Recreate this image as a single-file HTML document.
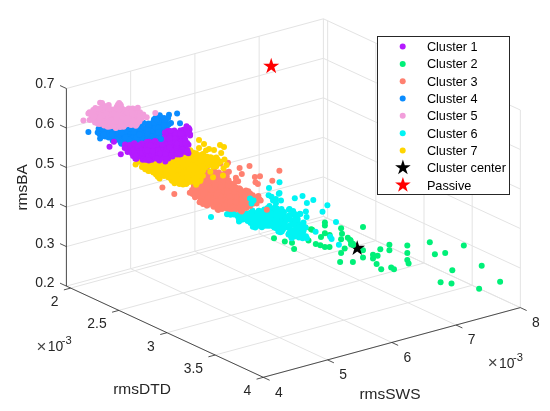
<!DOCTYPE html>
<html><head><meta charset="utf-8"><title>Cluster scatter</title>
<style>html,body{margin:0;padding:0;background:#fff}svg{display:block}</style></head>
<body><svg width="550" height="411" viewBox="0 0 550 411">
<rect width="550" height="411" fill="#fff"/>
<g stroke="#e3e3e3" stroke-width="1" fill="none">
<line x1="70.65" y1="288.07" x2="327.65" y2="218.37"/>
<line x1="118.82" y1="310.38" x2="375.82" y2="240.68"/>
<line x1="167.00" y1="332.69" x2="424.00" y2="262.99"/>
<line x1="215.17" y1="355.01" x2="472.17" y2="285.31"/>
<line x1="263.34" y1="377.32" x2="520.34" y2="307.62"/>
<line x1="66.40" y1="286.10" x2="263.30" y2="377.30"/>
<line x1="130.65" y1="268.68" x2="327.55" y2="359.88"/>
<line x1="194.90" y1="251.25" x2="391.80" y2="342.45"/>
<line x1="259.15" y1="233.83" x2="456.05" y2="325.03"/>
<line x1="323.40" y1="216.40" x2="520.30" y2="307.60"/>
<line x1="66.40" y1="286.10" x2="66.40" y2="88.50"/>
<line x1="130.65" y1="268.68" x2="130.65" y2="71.07"/>
<line x1="194.90" y1="251.25" x2="194.90" y2="53.65"/>
<line x1="259.15" y1="233.83" x2="259.15" y2="36.23"/>
<line x1="323.40" y1="216.40" x2="323.40" y2="18.80"/>
<line x1="66.40" y1="286.10" x2="323.40" y2="216.40"/>
<line x1="66.40" y1="246.58" x2="323.40" y2="176.88"/>
<line x1="66.40" y1="207.06" x2="323.40" y2="137.36"/>
<line x1="66.40" y1="167.54" x2="323.40" y2="97.84"/>
<line x1="66.40" y1="128.02" x2="323.40" y2="58.32"/>
<line x1="66.40" y1="88.50" x2="323.40" y2="18.80"/>
<line x1="327.65" y1="218.37" x2="327.65" y2="20.77"/>
<line x1="375.82" y1="240.68" x2="375.82" y2="43.08"/>
<line x1="424.00" y1="262.99" x2="424.00" y2="65.39"/>
<line x1="472.17" y1="285.31" x2="472.17" y2="87.71"/>
<line x1="520.34" y1="307.62" x2="520.34" y2="110.02"/>
<line x1="323.40" y1="216.40" x2="520.30" y2="307.60"/>
<line x1="323.40" y1="176.88" x2="520.30" y2="268.08"/>
<line x1="323.40" y1="137.36" x2="520.30" y2="228.56"/>
<line x1="323.40" y1="97.84" x2="520.30" y2="189.04"/>
<line x1="323.40" y1="58.32" x2="520.30" y2="149.52"/>
<line x1="323.40" y1="18.80" x2="520.30" y2="110.00"/>
</g>
<g stroke="#262626" stroke-width="0.8" fill="none">
<line x1="66.40" y1="88.50" x2="66.40" y2="286.10"/>
<line x1="66.40" y1="286.10" x2="263.30" y2="377.30"/>
<line x1="263.30" y1="377.30" x2="520.30" y2="307.60"/>
<line x1="66.40" y1="286.10" x2="60.05" y2="283.16"/>
<line x1="66.40" y1="246.58" x2="60.05" y2="243.64"/>
<line x1="66.40" y1="207.06" x2="60.05" y2="204.12"/>
<line x1="66.40" y1="167.54" x2="60.05" y2="164.60"/>
<line x1="66.40" y1="128.02" x2="60.05" y2="125.08"/>
<line x1="66.40" y1="88.50" x2="60.05" y2="85.56"/>
<line x1="70.65" y1="288.07" x2="63.90" y2="289.90"/>
<line x1="118.82" y1="310.38" x2="112.07" y2="312.21"/>
<line x1="167.00" y1="332.69" x2="160.24" y2="334.53"/>
<line x1="215.17" y1="355.01" x2="208.41" y2="356.84"/>
<line x1="263.34" y1="377.32" x2="256.58" y2="379.15"/>
<line x1="263.30" y1="377.30" x2="269.65" y2="380.24"/>
<line x1="327.55" y1="359.88" x2="333.90" y2="362.82"/>
<line x1="391.80" y1="342.45" x2="398.15" y2="345.39"/>
<line x1="456.05" y1="325.03" x2="462.40" y2="327.97"/>
<line x1="520.30" y1="307.60" x2="526.65" y2="310.54"/>
</g>
<g font-family="Liberation Sans, Arial, sans-serif" font-size="13.9" fill="#262626">
<text x="54.60" y="287.30" text-anchor="end">0.2</text>
<text x="54.60" y="247.52" text-anchor="end">0.3</text>
<text x="54.60" y="207.74" text-anchor="end">0.4</text>
<text x="54.60" y="167.96" text-anchor="end">0.5</text>
<text x="54.60" y="128.18" text-anchor="end">0.6</text>
<text x="54.60" y="88.40" text-anchor="end">0.7</text>
<text x="58.45" y="306.07" text-anchor="end">2</text>
<text x="106.62" y="328.38" text-anchor="end">2.5</text>
<text x="154.80" y="350.69" text-anchor="end">3</text>
<text x="202.97" y="373.01" text-anchor="end">3.5</text>
<text x="251.14" y="395.32" text-anchor="end">4</text>
<text x="278.90" y="396.60" text-anchor="middle">4</text>
<text x="343.15" y="379.18" text-anchor="middle">5</text>
<text x="407.40" y="361.75" text-anchor="middle">6</text>
<text x="471.65" y="344.33" text-anchor="middle">7</text>
<text x="535.90" y="326.90" text-anchor="middle">8</text>
<text x="36.6" y="351"><tspan font-size="17" fill="#444" dy="0.6">×</tspan><tspan dx="1.2" dy="-0.6">10</tspan><tspan dy="-6.6" dx="-1.4" font-size="11.2">-3</tspan></text>
<text x="487.8" y="367.5"><tspan font-size="17" fill="#444" dy="0.6">×</tspan><tspan dx="1.2" dy="-0.6">10</tspan><tspan dy="-6.6" dx="-1.4" font-size="11.2">-3</tspan></text>
</g>
<g font-family="Liberation Sans, Arial, sans-serif" font-size="15.5" fill="#262626">
<text x="142" y="394" text-anchor="middle">rmsDTD</text>
<text x="390" y="399" text-anchor="middle">rmsSWS</text>
<text transform="translate(26.8,187.3) rotate(-90)" text-anchor="middle">rmsBA</text>
</g>
<g fill="#00f078"><circle cx="274.0" cy="238.3" r="3.0"/><circle cx="284.8" cy="241.4" r="3.0"/><circle cx="292.0" cy="242.7" r="3.0"/><circle cx="294.1" cy="249.0" r="3.0"/><circle cx="305.5" cy="227.4" r="3.0"/><circle cx="312.1" cy="229.8" r="3.0"/><circle cx="324.9" cy="222.6" r="3.0"/><circle cx="324.9" cy="225.6" r="3.0"/><circle cx="324.9" cy="233.2" r="3.0"/><circle cx="321.0" cy="237.0" r="3.0"/><circle cx="329.6" cy="235.0" r="3.0"/><circle cx="315.8" cy="244.0" r="3.0"/><circle cx="320.3" cy="245.2" r="3.0"/><circle cx="324.9" cy="247.0" r="3.0"/><circle cx="329.5" cy="247.0" r="3.0"/><circle cx="308.5" cy="240.6" r="3.0"/><circle cx="341.1" cy="228.3" r="3.0"/><circle cx="342.0" cy="233.8" r="3.0"/><circle cx="341.1" cy="239.2" r="3.0"/><circle cx="347.8" cy="237.8" r="3.0"/><circle cx="350.2" cy="240.1" r="3.0"/><circle cx="352.9" cy="243.8" r="3.0"/><circle cx="363.0" cy="227.0" r="3.0"/><circle cx="344.7" cy="248.4" r="3.0"/><circle cx="341.1" cy="252.9" r="3.0"/><circle cx="340.1" cy="262.0" r="3.0"/><circle cx="352.9" cy="262.0" r="3.0"/><circle cx="363.0" cy="250.2" r="3.0"/><circle cx="363.0" cy="257.5" r="3.0"/><circle cx="373.0" cy="254.7" r="3.0"/><circle cx="377.6" cy="255.7" r="3.0"/><circle cx="373.0" cy="258.4" r="3.0"/><circle cx="380.3" cy="249.3" r="3.0"/><circle cx="389.4" cy="244.7" r="3.0"/><circle cx="389.4" cy="250.2" r="3.0"/><circle cx="376.6" cy="263.9" r="3.0"/><circle cx="381.2" cy="269.3" r="3.0"/><circle cx="391.2" cy="267.5" r="3.0"/><circle cx="394.0" cy="269.3" r="3.0"/><circle cx="407.3" cy="245.5" r="3.0"/><circle cx="407.3" cy="253.1" r="3.0"/><circle cx="407.3" cy="260.0" r="3.0"/><circle cx="408.6" cy="263.4" r="3.0"/><circle cx="429.8" cy="242.2" r="3.0"/><circle cx="434.9" cy="254.2" r="3.0"/><circle cx="445.2" cy="253.1" r="3.0"/><circle cx="463.8" cy="245.5" r="3.0"/><circle cx="452.3" cy="270.3" r="3.0"/><circle cx="440.6" cy="282.3" r="3.0"/><circle cx="451.5" cy="283.5" r="3.0"/><circle cx="481.7" cy="265.7" r="3.0"/><circle cx="479.1" cy="288.7" r="3.0"/><circle cx="500.1" cy="281.8" r="3.0"/><circle cx="311.1" cy="229.3" r="3.0"/></g>
<polygon points="357.20,240.20 359.04,245.87 365.00,245.87 360.18,249.37 362.02,255.03 357.20,251.53 352.38,255.03 354.22,249.37 349.40,245.87 355.36,245.87" fill="#000"/>
<g fill="#00f078"><circle cx="350.6" cy="240.6" r="3.0"/><circle cx="353.2" cy="244.9" r="3.0"/><circle cx="351.0" cy="244.3" r="3.0"/></g>
<polygon points="270.20,205.90 272.04,211.57 278.00,211.57 273.18,215.07 275.02,220.73 270.20,217.23 265.38,220.73 267.22,215.07 262.40,211.57 268.36,211.57" fill="#000"/>
<g fill="#00f4f4"><circle cx="267.5" cy="220.8" r="3.0"/><circle cx="254.4" cy="215.4" r="3.0"/><circle cx="257.4" cy="215.9" r="3.0"/><circle cx="280.1" cy="218.4" r="3.0"/><circle cx="261.9" cy="227.2" r="3.0"/><circle cx="259.4" cy="222.7" r="3.0"/><circle cx="278.4" cy="231.6" r="3.0"/><circle cx="282.9" cy="219.5" r="3.0"/><circle cx="264.2" cy="225.8" r="3.0"/><circle cx="272.9" cy="217.1" r="3.0"/><circle cx="278.9" cy="227.6" r="3.0"/><circle cx="260.2" cy="219.5" r="3.0"/><circle cx="274.3" cy="220.3" r="3.0"/><circle cx="272.7" cy="218.1" r="3.0"/><circle cx="254.5" cy="213.0" r="3.0"/><circle cx="255.6" cy="225.0" r="3.0"/><circle cx="278.7" cy="213.2" r="3.0"/><circle cx="251.8" cy="221.3" r="3.0"/><circle cx="273.7" cy="223.4" r="3.0"/><circle cx="259.1" cy="225.8" r="3.0"/><circle cx="264.6" cy="211.7" r="3.0"/><circle cx="279.9" cy="221.6" r="3.0"/><circle cx="258.6" cy="210.8" r="3.0"/><circle cx="250.5" cy="219.1" r="3.0"/><circle cx="246.8" cy="213.6" r="3.0"/><circle cx="260.4" cy="221.6" r="3.0"/><circle cx="264.0" cy="215.4" r="3.0"/><circle cx="269.5" cy="225.8" r="3.0"/><circle cx="238.8" cy="218.7" r="3.0"/><circle cx="272.6" cy="220.3" r="3.0"/><circle cx="242.9" cy="219.5" r="3.0"/><circle cx="274.9" cy="216.1" r="3.0"/><circle cx="268.6" cy="211.1" r="3.0"/><circle cx="282.0" cy="213.9" r="3.0"/><circle cx="278.6" cy="221.6" r="3.0"/><circle cx="271.6" cy="223.4" r="3.0"/><circle cx="279.8" cy="230.2" r="3.0"/><circle cx="250.4" cy="212.8" r="3.0"/><circle cx="250.6" cy="222.9" r="3.0"/><circle cx="269.2" cy="221.9" r="3.0"/><circle cx="277.3" cy="225.9" r="3.0"/><circle cx="246.3" cy="218.9" r="3.0"/><circle cx="266.2" cy="212.2" r="3.0"/><circle cx="275.7" cy="213.1" r="3.0"/><circle cx="281.5" cy="226.5" r="3.0"/><circle cx="258.7" cy="220.9" r="3.0"/><circle cx="285.0" cy="221.5" r="3.0"/><circle cx="269.5" cy="206.0" r="3.0"/><circle cx="254.1" cy="219.1" r="3.0"/><circle cx="270.0" cy="208.5" r="3.0"/><circle cx="263.2" cy="223.1" r="3.0"/><circle cx="252.8" cy="226.8" r="3.0"/><circle cx="280.3" cy="232.3" r="3.0"/><circle cx="269.1" cy="215.4" r="3.0"/><circle cx="284.6" cy="217.7" r="3.0"/><circle cx="284.1" cy="215.4" r="3.0"/><circle cx="265.8" cy="219.0" r="3.0"/><circle cx="274.3" cy="227.6" r="3.0"/><circle cx="272.7" cy="210.6" r="3.0"/><circle cx="260.3" cy="212.9" r="3.0"/><circle cx="267.0" cy="225.7" r="3.0"/><circle cx="275.4" cy="223.3" r="3.0"/><circle cx="282.6" cy="222.7" r="3.0"/><circle cx="278.6" cy="222.4" r="3.0"/><circle cx="247.9" cy="218.3" r="3.0"/><circle cx="240.4" cy="220.0" r="3.0"/><circle cx="263.1" cy="219.2" r="3.0"/><circle cx="275.0" cy="210.4" r="3.0"/><circle cx="268.8" cy="223.2" r="3.0"/><circle cx="243.8" cy="215.8" r="3.0"/><circle cx="275.9" cy="218.9" r="3.0"/><circle cx="250.1" cy="221.6" r="3.0"/><circle cx="268.7" cy="213.3" r="3.0"/><circle cx="276.3" cy="228.3" r="3.0"/><circle cx="265.1" cy="223.6" r="3.0"/><circle cx="282.2" cy="224.5" r="3.0"/><circle cx="281.4" cy="229.0" r="3.0"/><circle cx="274.7" cy="207.8" r="3.0"/><circle cx="247.5" cy="214.6" r="3.0"/><circle cx="267.6" cy="208.1" r="3.0"/><circle cx="280.3" cy="215.7" r="3.0"/><circle cx="255.3" cy="227.4" r="3.0"/><circle cx="262.3" cy="213.8" r="3.0"/><circle cx="247.7" cy="220.9" r="3.0"/><circle cx="267.5" cy="218.6" r="3.0"/><circle cx="260.1" cy="216.9" r="3.0"/><circle cx="274.4" cy="214.6" r="3.0"/><circle cx="275.8" cy="226.7" r="3.0"/><circle cx="273.1" cy="226.2" r="3.0"/><circle cx="257.0" cy="222.9" r="3.0"/><circle cx="266.1" cy="215.8" r="3.0"/><circle cx="270.6" cy="213.4" r="3.0"/><circle cx="266.0" cy="214.3" r="3.0"/><circle cx="252.4" cy="210.6" r="3.0"/><circle cx="281.8" cy="231.6" r="3.0"/><circle cx="256.3" cy="213.5" r="3.0"/><circle cx="278.1" cy="211.8" r="3.0"/><circle cx="284.0" cy="212.0" r="3.0"/><circle cx="284.7" cy="224.2" r="3.0"/><circle cx="256.2" cy="221.5" r="3.0"/><circle cx="276.9" cy="208.4" r="3.0"/><circle cx="238.9" cy="214.8" r="3.0"/><circle cx="253.6" cy="222.9" r="3.0"/><circle cx="252.3" cy="215.2" r="3.0"/><circle cx="256.5" cy="218.0" r="3.0"/><circle cx="263.5" cy="221.6" r="3.0"/><circle cx="277.0" cy="215.3" r="3.0"/><circle cx="264.3" cy="209.6" r="3.0"/><circle cx="270.5" cy="217.6" r="3.0"/><circle cx="280.8" cy="212.6" r="3.0"/><circle cx="249.2" cy="215.4" r="3.0"/><circle cx="261.1" cy="211.3" r="3.0"/></g>
<g fill="#00f4f4"><circle cx="289.2" cy="219.7" r="3.0"/><circle cx="303.4" cy="231.3" r="3.0"/><circle cx="303.9" cy="236.0" r="3.0"/><circle cx="301.3" cy="224.5" r="3.0"/><circle cx="290.7" cy="232.5" r="3.0"/><circle cx="296.1" cy="225.8" r="3.0"/><circle cx="293.9" cy="232.5" r="3.0"/><circle cx="289.5" cy="232.5" r="3.0"/><circle cx="296.7" cy="227.1" r="3.0"/><circle cx="288.5" cy="234.5" r="3.0"/><circle cx="293.1" cy="230.7" r="3.0"/><circle cx="295.2" cy="214.2" r="3.0"/><circle cx="302.7" cy="224.6" r="3.0"/><circle cx="293.8" cy="235.1" r="3.0"/><circle cx="290.7" cy="235.7" r="3.0"/><circle cx="295.3" cy="235.8" r="3.0"/><circle cx="289.4" cy="216.5" r="3.0"/><circle cx="294.5" cy="236.6" r="3.0"/><circle cx="296.9" cy="233.7" r="3.0"/><circle cx="297.6" cy="221.6" r="3.0"/><circle cx="301.3" cy="226.5" r="3.0"/><circle cx="286.6" cy="227.2" r="3.0"/><circle cx="292.8" cy="214.4" r="3.0"/><circle cx="295.2" cy="220.6" r="3.0"/><circle cx="298.2" cy="230.4" r="3.0"/><circle cx="306.0" cy="236.2" r="3.0"/><circle cx="289.5" cy="225.7" r="3.0"/><circle cx="302.6" cy="238.2" r="3.0"/><circle cx="295.3" cy="229.6" r="3.0"/><circle cx="293.0" cy="220.2" r="3.0"/><circle cx="295.5" cy="216.5" r="3.0"/><circle cx="292.1" cy="223.8" r="3.0"/></g>
<g fill="#00f4f4"><circle cx="211.0" cy="217.0" r="3.0"/><circle cx="239.0" cy="221.5" r="3.0"/><circle cx="269.0" cy="188.0" r="3.0"/><circle cx="279.5" cy="182.3" r="3.0"/><circle cx="278.8" cy="193.8" r="3.0"/><circle cx="271.5" cy="196.7" r="3.0"/><circle cx="273.0" cy="200.4" r="3.0"/><circle cx="275.9" cy="203.3" r="3.0"/><circle cx="281.0" cy="200.4" r="3.0"/><circle cx="294.8" cy="198.3" r="3.0"/><circle cx="302.5" cy="196.0" r="3.0"/><circle cx="313.3" cy="200.0" r="3.0"/><circle cx="306.9" cy="203.0" r="3.0"/><circle cx="327.4" cy="205.3" r="3.0"/><circle cx="322.5" cy="211.8" r="3.0"/><circle cx="281.5" cy="208.9" r="3.0"/><circle cx="289.5" cy="208.9" r="3.0"/><circle cx="293.1" cy="211.1" r="3.0"/><circle cx="300.4" cy="214.0" r="3.0"/><circle cx="305.9" cy="211.5" r="3.0"/><circle cx="306.6" cy="216.9" r="3.0"/><circle cx="297.5" cy="219.8" r="3.0"/><circle cx="294.5" cy="224.2" r="3.0"/><circle cx="298.9" cy="225.6" r="3.0"/><circle cx="336.0" cy="222.0" r="3.0"/><circle cx="297.5" cy="218.6" r="3.0"/><circle cx="300.4" cy="227.4" r="3.0"/><circle cx="305.5" cy="227.4" r="3.0"/><circle cx="306.9" cy="238.3" r="3.0"/><circle cx="315.6" cy="231.7" r="3.0"/><circle cx="330.2" cy="236.8" r="3.0"/><circle cx="331.6" cy="239.0" r="3.0"/><circle cx="338.9" cy="244.8" r="3.0"/><circle cx="268.6" cy="195.3" r="3.0"/><circle cx="275.2" cy="207.6" r="3.0"/><circle cx="279.5" cy="193.1" r="3.0"/><circle cx="275.9" cy="198.9" r="3.0"/><circle cx="284.4" cy="223.7" r="3.0"/><circle cx="283.0" cy="229.5" r="3.0"/><circle cx="288.7" cy="233.9" r="3.0"/><circle cx="294.5" cy="233.9" r="3.0"/><circle cx="298.9" cy="237.5" r="3.0"/><circle cx="291.6" cy="238.3" r="3.0"/><circle cx="289.0" cy="209.4" r="3.0"/><circle cx="293.4" cy="212.3" r="3.0"/><circle cx="299.9" cy="213.7" r="3.0"/><circle cx="287.5" cy="219.5" r="3.0"/><circle cx="293.4" cy="223.9" r="3.0"/><circle cx="303.5" cy="222.5" r="3.0"/><circle cx="296.0" cy="231.0" r="3.0"/><circle cx="301.0" cy="234.0" r="3.0"/><circle cx="290.0" cy="228.0" r="3.0"/><circle cx="289.5" cy="215.0" r="3.0"/></g>
<polygon points="222.50,181.80 224.34,187.47 230.30,187.47 225.48,190.97 227.32,196.63 222.50,193.13 217.68,196.63 219.52,190.97 214.70,187.47 220.66,187.47" fill="#000"/>
<g fill="#ff8070"><circle cx="228.4" cy="188.9" r="3.0"/><circle cx="198.1" cy="178.7" r="3.0"/><circle cx="223.4" cy="181.9" r="3.0"/><circle cx="199.5" cy="189.3" r="3.0"/><circle cx="230.4" cy="189.1" r="3.0"/><circle cx="232.3" cy="201.0" r="3.0"/><circle cx="256.6" cy="201.1" r="3.0"/><circle cx="216.5" cy="175.2" r="3.0"/><circle cx="210.4" cy="184.9" r="3.0"/><circle cx="218.9" cy="204.7" r="3.0"/><circle cx="196.4" cy="180.9" r="3.0"/><circle cx="199.1" cy="184.7" r="3.0"/><circle cx="235.6" cy="194.1" r="3.0"/><circle cx="227.0" cy="196.4" r="3.0"/><circle cx="203.8" cy="181.6" r="3.0"/><circle cx="224.5" cy="176.5" r="3.0"/><circle cx="204.3" cy="196.6" r="3.0"/><circle cx="219.3" cy="195.1" r="3.0"/><circle cx="214.7" cy="177.6" r="3.0"/><circle cx="205.2" cy="202.3" r="3.0"/><circle cx="200.6" cy="200.4" r="3.0"/><circle cx="246.4" cy="207.9" r="3.0"/><circle cx="245.1" cy="198.3" r="3.0"/><circle cx="227.1" cy="198.1" r="3.0"/><circle cx="241.2" cy="198.2" r="3.0"/><circle cx="252.8" cy="195.3" r="3.0"/><circle cx="237.9" cy="196.7" r="3.0"/><circle cx="259.6" cy="199.5" r="3.0"/><circle cx="243.0" cy="191.5" r="3.0"/><circle cx="235.6" cy="187.5" r="3.0"/><circle cx="225.5" cy="172.2" r="3.0"/><circle cx="207.6" cy="200.6" r="3.0"/><circle cx="198.3" cy="192.2" r="3.0"/><circle cx="226.4" cy="182.8" r="3.0"/><circle cx="217.6" cy="189.7" r="3.0"/><circle cx="227.0" cy="205.7" r="3.0"/><circle cx="216.3" cy="195.8" r="3.0"/><circle cx="207.8" cy="193.8" r="3.0"/><circle cx="214.1" cy="171.2" r="3.0"/><circle cx="202.9" cy="198.4" r="3.0"/><circle cx="233.5" cy="193.9" r="3.0"/><circle cx="207.7" cy="190.8" r="3.0"/><circle cx="240.9" cy="192.0" r="3.0"/><circle cx="212.2" cy="182.1" r="3.0"/><circle cx="234.5" cy="199.6" r="3.0"/><circle cx="231.2" cy="183.8" r="3.0"/><circle cx="226.1" cy="208.2" r="3.0"/><circle cx="207.8" cy="204.7" r="3.0"/><circle cx="244.0" cy="204.0" r="3.0"/><circle cx="255.2" cy="198.1" r="3.0"/><circle cx="239.6" cy="209.5" r="3.0"/><circle cx="228.8" cy="186.2" r="3.0"/><circle cx="220.6" cy="201.1" r="3.0"/><circle cx="239.9" cy="201.4" r="3.0"/><circle cx="215.7" cy="206.0" r="3.0"/><circle cx="230.2" cy="209.4" r="3.0"/><circle cx="225.1" cy="204.2" r="3.0"/><circle cx="217.8" cy="207.2" r="3.0"/><circle cx="240.5" cy="196.5" r="3.0"/><circle cx="233.4" cy="189.3" r="3.0"/><circle cx="224.8" cy="187.4" r="3.0"/><circle cx="218.8" cy="172.4" r="3.0"/><circle cx="225.2" cy="199.1" r="3.0"/><circle cx="201.4" cy="181.4" r="3.0"/><circle cx="197.5" cy="189.6" r="3.0"/><circle cx="200.2" cy="194.9" r="3.0"/><circle cx="200.7" cy="192.3" r="3.0"/><circle cx="226.0" cy="186.6" r="3.0"/><circle cx="206.4" cy="186.1" r="3.0"/><circle cx="236.8" cy="204.8" r="3.0"/><circle cx="206.2" cy="174.4" r="3.0"/><circle cx="209.0" cy="192.0" r="3.0"/><circle cx="252.2" cy="195.8" r="3.0"/><circle cx="222.3" cy="189.2" r="3.0"/><circle cx="233.8" cy="185.0" r="3.0"/><circle cx="221.7" cy="183.5" r="3.0"/><circle cx="205.2" cy="186.8" r="3.0"/><circle cx="230.8" cy="204.0" r="3.0"/><circle cx="208.2" cy="188.6" r="3.0"/><circle cx="198.1" cy="193.7" r="3.0"/><circle cx="194.5" cy="194.6" r="3.0"/><circle cx="212.4" cy="187.4" r="3.0"/><circle cx="206.4" cy="195.6" r="3.0"/><circle cx="212.1" cy="195.9" r="3.0"/><circle cx="211.4" cy="178.9" r="3.0"/><circle cx="216.0" cy="179.9" r="3.0"/><circle cx="248.3" cy="191.2" r="3.0"/><circle cx="256.5" cy="203.4" r="3.0"/><circle cx="211.7" cy="174.2" r="3.0"/><circle cx="213.1" cy="191.0" r="3.0"/><circle cx="224.8" cy="200.5" r="3.0"/><circle cx="214.3" cy="195.1" r="3.0"/><circle cx="228.0" cy="180.4" r="3.0"/><circle cx="213.6" cy="206.7" r="3.0"/><circle cx="200.7" cy="179.8" r="3.0"/><circle cx="249.6" cy="198.3" r="3.0"/><circle cx="250.1" cy="205.9" r="3.0"/><circle cx="209.0" cy="181.6" r="3.0"/><circle cx="250.1" cy="193.4" r="3.0"/><circle cx="194.0" cy="183.0" r="3.0"/><circle cx="220.0" cy="189.0" r="3.0"/><circle cx="208.8" cy="179.6" r="3.0"/><circle cx="209.8" cy="172.8" r="3.0"/><circle cx="193.4" cy="190.8" r="3.0"/><circle cx="238.7" cy="205.9" r="3.0"/><circle cx="200.9" cy="198.2" r="3.0"/><circle cx="231.8" cy="198.5" r="3.0"/><circle cx="220.1" cy="182.8" r="3.0"/><circle cx="226.1" cy="194.6" r="3.0"/><circle cx="210.5" cy="178.1" r="3.0"/><circle cx="237.0" cy="201.5" r="3.0"/><circle cx="225.3" cy="184.4" r="3.0"/><circle cx="223.9" cy="196.9" r="3.0"/><circle cx="213.5" cy="190.1" r="3.0"/><circle cx="197.8" cy="184.8" r="3.0"/><circle cx="228.8" cy="205.6" r="3.0"/><circle cx="216.7" cy="199.7" r="3.0"/><circle cx="192.6" cy="194.1" r="3.0"/><circle cx="189.8" cy="192.8" r="3.0"/><circle cx="203.4" cy="174.5" r="3.0"/><circle cx="224.6" cy="178.9" r="3.0"/><circle cx="214.2" cy="174.7" r="3.0"/><circle cx="209.1" cy="187.1" r="3.0"/><circle cx="223.2" cy="199.1" r="3.0"/><circle cx="223.3" cy="204.4" r="3.0"/><circle cx="211.8" cy="177.9" r="3.0"/><circle cx="202.7" cy="172.7" r="3.0"/><circle cx="195.0" cy="197.2" r="3.0"/><circle cx="206.8" cy="205.4" r="3.0"/><circle cx="212.1" cy="198.4" r="3.0"/><circle cx="205.1" cy="176.8" r="3.0"/><circle cx="242.9" cy="208.4" r="3.0"/><circle cx="199.8" cy="176.1" r="3.0"/><circle cx="207.5" cy="171.7" r="3.0"/><circle cx="212.3" cy="171.6" r="3.0"/><circle cx="220.6" cy="207.2" r="3.0"/><circle cx="195.5" cy="181.6" r="3.0"/><circle cx="222.9" cy="174.5" r="3.0"/><circle cx="254.3" cy="201.9" r="3.0"/><circle cx="203.0" cy="204.1" r="3.0"/><circle cx="203.0" cy="188.4" r="3.0"/><circle cx="230.5" cy="194.4" r="3.0"/><circle cx="253.6" cy="198.1" r="3.0"/><circle cx="247.8" cy="194.0" r="3.0"/><circle cx="227.2" cy="202.3" r="3.0"/><circle cx="206.5" cy="199.7" r="3.0"/><circle cx="211.8" cy="203.9" r="3.0"/><circle cx="219.1" cy="179.5" r="3.0"/><circle cx="207.7" cy="171.2" r="3.0"/><circle cx="210.5" cy="193.6" r="3.0"/><circle cx="213.9" cy="199.2" r="3.0"/><circle cx="238.8" cy="191.7" r="3.0"/><circle cx="204.8" cy="184.2" r="3.0"/><circle cx="232.5" cy="192.6" r="3.0"/><circle cx="239.4" cy="198.4" r="3.0"/><circle cx="214.8" cy="192.5" r="3.0"/><circle cx="238.6" cy="204.1" r="3.0"/><circle cx="231.9" cy="205.9" r="3.0"/><circle cx="241.5" cy="206.2" r="3.0"/><circle cx="246.6" cy="195.9" r="3.0"/><circle cx="221.7" cy="192.1" r="3.0"/><circle cx="217.9" cy="201.1" r="3.0"/><circle cx="236.3" cy="199.2" r="3.0"/><circle cx="235.9" cy="188.3" r="3.0"/><circle cx="217.5" cy="184.3" r="3.0"/><circle cx="221.7" cy="178.0" r="3.0"/><circle cx="223.2" cy="195.0" r="3.0"/><circle cx="218.2" cy="177.8" r="3.0"/><circle cx="242.2" cy="210.5" r="3.0"/><circle cx="225.2" cy="175.4" r="3.0"/><circle cx="233.0" cy="204.8" r="3.0"/><circle cx="218.2" cy="181.1" r="3.0"/><circle cx="235.0" cy="191.3" r="3.0"/><circle cx="207.9" cy="181.4" r="3.0"/><circle cx="199.3" cy="187.2" r="3.0"/><circle cx="227.8" cy="203.5" r="3.0"/><circle cx="242.5" cy="207.0" r="3.0"/><circle cx="244.3" cy="195.8" r="3.0"/><circle cx="202.0" cy="177.6" r="3.0"/><circle cx="246.2" cy="205.7" r="3.0"/><circle cx="258.4" cy="196.1" r="3.0"/><circle cx="201.7" cy="196.8" r="3.0"/><circle cx="223.5" cy="180.6" r="3.0"/><circle cx="205.5" cy="193.9" r="3.0"/><circle cx="226.0" cy="189.9" r="3.0"/><circle cx="234.6" cy="205.5" r="3.0"/><circle cx="242.6" cy="201.6" r="3.0"/><circle cx="212.7" cy="200.7" r="3.0"/><circle cx="227.9" cy="209.1" r="3.0"/><circle cx="218.2" cy="210.1" r="3.0"/><circle cx="193.9" cy="184.7" r="3.0"/><circle cx="205.0" cy="179.4" r="3.0"/><circle cx="239.5" cy="193.3" r="3.0"/><circle cx="207.5" cy="177.4" r="3.0"/><circle cx="199.5" cy="196.8" r="3.0"/><circle cx="217.4" cy="209.0" r="3.0"/><circle cx="194.9" cy="187.4" r="3.0"/><circle cx="216.1" cy="203.5" r="3.0"/><circle cx="219.6" cy="175.2" r="3.0"/><circle cx="215.8" cy="181.2" r="3.0"/><circle cx="214.0" cy="171.3" r="3.0"/><circle cx="249.2" cy="201.0" r="3.0"/><circle cx="201.8" cy="173.8" r="3.0"/><circle cx="241.2" cy="194.3" r="3.0"/><circle cx="218.5" cy="196.9" r="3.0"/><circle cx="231.4" cy="186.7" r="3.0"/><circle cx="203.4" cy="193.9" r="3.0"/><circle cx="237.2" cy="208.8" r="3.0"/><circle cx="224.9" cy="205.6" r="3.0"/><circle cx="217.6" cy="187.5" r="3.0"/><circle cx="228.6" cy="193.6" r="3.0"/><circle cx="218.6" cy="207.4" r="3.0"/><circle cx="251.8" cy="201.5" r="3.0"/><circle cx="209.1" cy="173.9" r="3.0"/><circle cx="233.7" cy="207.8" r="3.0"/><circle cx="215.1" cy="204.0" r="3.0"/><circle cx="214.0" cy="178.8" r="3.0"/><circle cx="194.8" cy="190.0" r="3.0"/><circle cx="236.1" cy="197.0" r="3.0"/><circle cx="226.6" cy="173.7" r="3.0"/><circle cx="220.5" cy="196.4" r="3.0"/><circle cx="209.0" cy="195.6" r="3.0"/><circle cx="247.7" cy="204.6" r="3.0"/><circle cx="229.0" cy="191.4" r="3.0"/><circle cx="224.3" cy="191.2" r="3.0"/><circle cx="214.8" cy="186.0" r="3.0"/><circle cx="201.3" cy="186.7" r="3.0"/><circle cx="231.4" cy="196.8" r="3.0"/><circle cx="203.3" cy="184.2" r="3.0"/><circle cx="192.1" cy="190.1" r="3.0"/><circle cx="227.9" cy="185.1" r="3.0"/><circle cx="210.4" cy="201.7" r="3.0"/><circle cx="220.5" cy="200.0" r="3.0"/><circle cx="216.1" cy="201.7" r="3.0"/><circle cx="206.6" cy="168.9" r="3.0"/><circle cx="227.4" cy="192.0" r="3.0"/><circle cx="198.2" cy="181.6" r="3.0"/><circle cx="250.1" cy="196.1" r="3.0"/><circle cx="246.0" cy="190.4" r="3.0"/><circle cx="207.6" cy="185.5" r="3.0"/><circle cx="255.5" cy="197.4" r="3.0"/><circle cx="206.6" cy="188.6" r="3.0"/><circle cx="222.0" cy="209.1" r="3.0"/><circle cx="219.4" cy="184.7" r="3.0"/><circle cx="228.6" cy="180.5" r="3.0"/><circle cx="246.7" cy="202.1" r="3.0"/><circle cx="234.3" cy="210.7" r="3.0"/><circle cx="239.1" cy="188.3" r="3.0"/><circle cx="217.9" cy="192.4" r="3.0"/><circle cx="235.6" cy="202.0" r="3.0"/><circle cx="260.7" cy="200.6" r="3.0"/><circle cx="226.7" cy="176.2" r="3.0"/><circle cx="229.7" cy="196.6" r="3.0"/><circle cx="216.5" cy="194.2" r="3.0"/><circle cx="248.7" cy="199.4" r="3.0"/><circle cx="244.5" cy="194.2" r="3.0"/><circle cx="250.4" cy="204.0" r="3.0"/><circle cx="230.0" cy="201.7" r="3.0"/><circle cx="207.9" cy="198.3" r="3.0"/><circle cx="193.9" cy="186.7" r="3.0"/><circle cx="205.1" cy="192.1" r="3.0"/><circle cx="252.9" cy="203.8" r="3.0"/><circle cx="212.2" cy="190.0" r="3.0"/><circle cx="202.9" cy="179.4" r="3.0"/><circle cx="214.9" cy="185.1" r="3.0"/><circle cx="220.9" cy="187.0" r="3.0"/><circle cx="240.3" cy="189.3" r="3.0"/><circle cx="242.5" cy="204.1" r="3.0"/><circle cx="199.6" cy="202.2" r="3.0"/><circle cx="195.2" cy="192.6" r="3.0"/><circle cx="241.1" cy="211.7" r="3.0"/></g>
<g fill="#ff8070"><circle cx="162.4" cy="187.5" r="3.0"/><circle cx="174.3" cy="194.1" r="3.0"/><circle cx="239.6" cy="167.9" r="3.0"/><circle cx="249.5" cy="166.0" r="3.0"/><circle cx="279.4" cy="170.7" r="3.0"/><circle cx="241.8" cy="174.0" r="3.0"/><circle cx="235.9" cy="177.8" r="3.0"/><circle cx="238.1" cy="181.3" r="3.0"/><circle cx="254.9" cy="177.0" r="3.0"/><circle cx="260.0" cy="176.3" r="3.0"/><circle cx="257.9" cy="184.0" r="3.0"/><circle cx="272.3" cy="180.8" r="3.0"/><circle cx="255.5" cy="182.2" r="3.0"/><circle cx="235.9" cy="181.5" r="3.0"/><circle cx="228.9" cy="171.8" r="3.0"/><circle cx="220.3" cy="163.6" r="3.0"/><circle cx="228.0" cy="162.7" r="3.0"/><circle cx="204.8" cy="169.5" r="3.0"/></g>
<g fill="#ffd500"><circle cx="152.9" cy="164.9" r="3.0"/><circle cx="189.0" cy="165.5" r="3.0"/><circle cx="190.3" cy="181.7" r="3.0"/><circle cx="205.5" cy="160.1" r="3.0"/><circle cx="196.0" cy="153.2" r="3.0"/><circle cx="149.7" cy="170.8" r="3.0"/><circle cx="156.0" cy="174.4" r="3.0"/><circle cx="198.6" cy="177.0" r="3.0"/><circle cx="179.5" cy="163.1" r="3.0"/><circle cx="181.2" cy="161.8" r="3.0"/><circle cx="191.4" cy="179.0" r="3.0"/><circle cx="159.6" cy="175.8" r="3.0"/><circle cx="173.1" cy="158.1" r="3.0"/><circle cx="167.2" cy="163.2" r="3.0"/><circle cx="160.7" cy="173.7" r="3.0"/><circle cx="181.4" cy="170.2" r="3.0"/><circle cx="173.8" cy="159.3" r="3.0"/><circle cx="180.5" cy="153.6" r="3.0"/><circle cx="178.9" cy="172.0" r="3.0"/><circle cx="211.4" cy="164.0" r="3.0"/><circle cx="172.5" cy="168.1" r="3.0"/><circle cx="168.2" cy="165.8" r="3.0"/><circle cx="186.2" cy="184.0" r="3.0"/><circle cx="189.3" cy="166.6" r="3.0"/><circle cx="178.5" cy="159.8" r="3.0"/><circle cx="191.3" cy="154.4" r="3.0"/><circle cx="182.1" cy="158.5" r="3.0"/><circle cx="179.5" cy="177.2" r="3.0"/><circle cx="148.6" cy="167.1" r="3.0"/><circle cx="184.1" cy="169.7" r="3.0"/><circle cx="187.2" cy="182.8" r="3.0"/><circle cx="189.5" cy="177.1" r="3.0"/><circle cx="172.5" cy="164.5" r="3.0"/><circle cx="220.5" cy="161.7" r="3.0"/><circle cx="155.8" cy="173.0" r="3.0"/><circle cx="171.3" cy="174.0" r="3.0"/><circle cx="186.8" cy="162.2" r="3.0"/><circle cx="203.4" cy="162.4" r="3.0"/><circle cx="156.2" cy="156.9" r="3.0"/><circle cx="205.7" cy="167.2" r="3.0"/><circle cx="172.6" cy="176.1" r="3.0"/><circle cx="199.6" cy="155.3" r="3.0"/><circle cx="171.1" cy="173.2" r="3.0"/><circle cx="166.1" cy="160.6" r="3.0"/><circle cx="178.1" cy="175.5" r="3.0"/><circle cx="189.5" cy="179.4" r="3.0"/><circle cx="218.3" cy="163.3" r="3.0"/><circle cx="182.4" cy="166.5" r="3.0"/><circle cx="208.8" cy="165.2" r="3.0"/><circle cx="193.0" cy="157.1" r="3.0"/><circle cx="194.9" cy="171.8" r="3.0"/><circle cx="147.6" cy="158.4" r="3.0"/><circle cx="204.6" cy="165.2" r="3.0"/><circle cx="139.0" cy="161.7" r="3.0"/><circle cx="160.3" cy="170.6" r="3.0"/><circle cx="177.3" cy="153.2" r="3.0"/><circle cx="180.7" cy="154.4" r="3.0"/><circle cx="170.6" cy="162.0" r="3.0"/><circle cx="145.2" cy="169.3" r="3.0"/><circle cx="203.2" cy="170.5" r="3.0"/><circle cx="192.9" cy="181.6" r="3.0"/><circle cx="162.4" cy="157.0" r="3.0"/><circle cx="193.8" cy="173.2" r="3.0"/><circle cx="180.6" cy="175.1" r="3.0"/><circle cx="214.9" cy="164.1" r="3.0"/><circle cx="180.2" cy="155.7" r="3.0"/><circle cx="189.9" cy="173.2" r="3.0"/><circle cx="176.7" cy="178.6" r="3.0"/><circle cx="160.0" cy="165.2" r="3.0"/><circle cx="174.5" cy="183.2" r="3.0"/><circle cx="166.5" cy="165.9" r="3.0"/><circle cx="179.2" cy="167.7" r="3.0"/><circle cx="159.3" cy="157.9" r="3.0"/><circle cx="200.9" cy="174.9" r="3.0"/><circle cx="187.3" cy="153.8" r="3.0"/><circle cx="162.9" cy="164.6" r="3.0"/><circle cx="147.0" cy="165.8" r="3.0"/><circle cx="199.4" cy="171.8" r="3.0"/><circle cx="155.4" cy="153.7" r="3.0"/><circle cx="165.7" cy="157.4" r="3.0"/><circle cx="165.2" cy="156.3" r="3.0"/><circle cx="196.7" cy="155.9" r="3.0"/><circle cx="205.1" cy="156.8" r="3.0"/><circle cx="153.0" cy="161.0" r="3.0"/><circle cx="195.2" cy="180.5" r="3.0"/><circle cx="177.2" cy="154.4" r="3.0"/><circle cx="158.8" cy="167.7" r="3.0"/><circle cx="144.7" cy="163.2" r="3.0"/><circle cx="180.3" cy="164.7" r="3.0"/><circle cx="212.6" cy="158.2" r="3.0"/><circle cx="157.9" cy="176.8" r="3.0"/><circle cx="175.5" cy="169.5" r="3.0"/><circle cx="211.5" cy="160.7" r="3.0"/><circle cx="179.8" cy="158.4" r="3.0"/><circle cx="216.5" cy="164.8" r="3.0"/><circle cx="193.0" cy="176.2" r="3.0"/><circle cx="196.3" cy="160.3" r="3.0"/><circle cx="175.2" cy="156.2" r="3.0"/><circle cx="159.8" cy="171.8" r="3.0"/><circle cx="196.6" cy="162.6" r="3.0"/><circle cx="168.8" cy="157.5" r="3.0"/><circle cx="164.8" cy="168.4" r="3.0"/><circle cx="175.5" cy="165.2" r="3.0"/><circle cx="217.5" cy="159.4" r="3.0"/><circle cx="154.3" cy="165.6" r="3.0"/><circle cx="176.4" cy="168.2" r="3.0"/><circle cx="186.4" cy="166.9" r="3.0"/><circle cx="176.3" cy="172.9" r="3.0"/><circle cx="174.6" cy="174.5" r="3.0"/><circle cx="165.4" cy="169.9" r="3.0"/><circle cx="182.5" cy="181.6" r="3.0"/><circle cx="144.7" cy="158.1" r="3.0"/><circle cx="158.8" cy="160.7" r="3.0"/><circle cx="142.4" cy="162.4" r="3.0"/><circle cx="191.2" cy="170.5" r="3.0"/><circle cx="172.0" cy="180.8" r="3.0"/><circle cx="184.6" cy="176.4" r="3.0"/><circle cx="159.6" cy="178.6" r="3.0"/><circle cx="184.9" cy="182.9" r="3.0"/><circle cx="148.4" cy="170.9" r="3.0"/><circle cx="192.7" cy="166.7" r="3.0"/><circle cx="191.0" cy="175.0" r="3.0"/><circle cx="171.6" cy="168.3" r="3.0"/><circle cx="142.0" cy="167.1" r="3.0"/><circle cx="196.7" cy="164.4" r="3.0"/><circle cx="169.5" cy="175.5" r="3.0"/><circle cx="184.1" cy="155.4" r="3.0"/><circle cx="167.3" cy="155.3" r="3.0"/><circle cx="162.7" cy="174.1" r="3.0"/><circle cx="172.3" cy="169.9" r="3.0"/><circle cx="156.0" cy="160.1" r="3.0"/><circle cx="161.9" cy="172.0" r="3.0"/><circle cx="200.1" cy="180.9" r="3.0"/><circle cx="172.9" cy="159.9" r="3.0"/><circle cx="153.0" cy="154.7" r="3.0"/><circle cx="196.5" cy="157.4" r="3.0"/><circle cx="177.5" cy="164.5" r="3.0"/><circle cx="171.0" cy="179.0" r="3.0"/><circle cx="195.2" cy="165.1" r="3.0"/><circle cx="210.1" cy="162.0" r="3.0"/><circle cx="207.1" cy="156.8" r="3.0"/><circle cx="162.1" cy="157.0" r="3.0"/><circle cx="190.8" cy="164.2" r="3.0"/><circle cx="149.2" cy="164.2" r="3.0"/><circle cx="200.6" cy="179.8" r="3.0"/><circle cx="149.2" cy="161.8" r="3.0"/><circle cx="144.6" cy="165.7" r="3.0"/><circle cx="207.5" cy="161.8" r="3.0"/><circle cx="188.0" cy="174.3" r="3.0"/><circle cx="188.9" cy="155.3" r="3.0"/><circle cx="202.6" cy="165.9" r="3.0"/><circle cx="186.5" cy="159.5" r="3.0"/><circle cx="181.3" cy="172.9" r="3.0"/><circle cx="184.9" cy="162.8" r="3.0"/><circle cx="201.7" cy="163.4" r="3.0"/><circle cx="179.9" cy="179.0" r="3.0"/><circle cx="151.3" cy="162.4" r="3.0"/><circle cx="210.6" cy="157.2" r="3.0"/><circle cx="214.9" cy="160.2" r="3.0"/><circle cx="203.0" cy="154.0" r="3.0"/><circle cx="152.2" cy="170.7" r="3.0"/><circle cx="160.1" cy="160.8" r="3.0"/><circle cx="159.0" cy="154.6" r="3.0"/><circle cx="165.1" cy="172.4" r="3.0"/><circle cx="167.7" cy="166.5" r="3.0"/><circle cx="199.5" cy="170.1" r="3.0"/><circle cx="174.6" cy="180.1" r="3.0"/><circle cx="202.2" cy="154.7" r="3.0"/><circle cx="190.3" cy="150.3" r="3.0"/><circle cx="183.7" cy="173.9" r="3.0"/><circle cx="161.7" cy="167.2" r="3.0"/><circle cx="163.0" cy="168.9" r="3.0"/><circle cx="214.5" cy="163.0" r="3.0"/><circle cx="169.8" cy="161.0" r="3.0"/><circle cx="200.3" cy="164.9" r="3.0"/><circle cx="182.4" cy="164.3" r="3.0"/><circle cx="156.0" cy="167.0" r="3.0"/><circle cx="149.4" cy="160.0" r="3.0"/><circle cx="152.8" cy="166.6" r="3.0"/><circle cx="202.9" cy="175.7" r="3.0"/><circle cx="213.4" cy="166.7" r="3.0"/><circle cx="200.6" cy="167.6" r="3.0"/><circle cx="182.5" cy="179.7" r="3.0"/><circle cx="145.0" cy="166.7" r="3.0"/><circle cx="168.1" cy="171.3" r="3.0"/><circle cx="176.9" cy="163.3" r="3.0"/><circle cx="169.7" cy="156.8" r="3.0"/><circle cx="202.3" cy="159.3" r="3.0"/><circle cx="200.7" cy="158.6" r="3.0"/><circle cx="212.7" cy="163.5" r="3.0"/><circle cx="176.2" cy="158.4" r="3.0"/><circle cx="179.5" cy="183.9" r="3.0"/><circle cx="196.3" cy="179.9" r="3.0"/><circle cx="178.7" cy="181.6" r="3.0"/><circle cx="150.5" cy="154.4" r="3.0"/><circle cx="194.0" cy="174.4" r="3.0"/><circle cx="193.6" cy="170.5" r="3.0"/><circle cx="143.9" cy="159.9" r="3.0"/><circle cx="153.4" cy="172.5" r="3.0"/><circle cx="183.8" cy="166.6" r="3.0"/><circle cx="179.9" cy="159.4" r="3.0"/><circle cx="204.2" cy="156.3" r="3.0"/><circle cx="196.1" cy="184.7" r="3.0"/><circle cx="189.4" cy="158.5" r="3.0"/><circle cx="194.2" cy="155.3" r="3.0"/><circle cx="171.4" cy="176.9" r="3.0"/><circle cx="197.0" cy="183.0" r="3.0"/><circle cx="195.0" cy="178.0" r="3.0"/><circle cx="162.8" cy="160.4" r="3.0"/><circle cx="182.5" cy="177.9" r="3.0"/><circle cx="186.3" cy="169.1" r="3.0"/><circle cx="188.2" cy="170.0" r="3.0"/><circle cx="154.5" cy="170.7" r="3.0"/><circle cx="189.7" cy="153.4" r="3.0"/><circle cx="198.3" cy="162.1" r="3.0"/><circle cx="153.8" cy="162.6" r="3.0"/><circle cx="178.1" cy="169.9" r="3.0"/><circle cx="157.6" cy="169.5" r="3.0"/><circle cx="201.5" cy="171.6" r="3.0"/><circle cx="169.4" cy="169.5" r="3.0"/><circle cx="164.8" cy="162.1" r="3.0"/><circle cx="183.0" cy="184.6" r="3.0"/><circle cx="187.0" cy="157.2" r="3.0"/><circle cx="182.9" cy="159.8" r="3.0"/><circle cx="153.2" cy="158.6" r="3.0"/><circle cx="168.2" cy="177.2" r="3.0"/><circle cx="198.1" cy="174.7" r="3.0"/><circle cx="175.3" cy="176.4" r="3.0"/><circle cx="164.0" cy="176.1" r="3.0"/><circle cx="199.4" cy="168.2" r="3.0"/><circle cx="184.3" cy="173.2" r="3.0"/><circle cx="195.7" cy="181.5" r="3.0"/><circle cx="185.7" cy="174.4" r="3.0"/><circle cx="193.0" cy="163.2" r="3.0"/><circle cx="160.3" cy="162.1" r="3.0"/><circle cx="188.7" cy="160.9" r="3.0"/><circle cx="189.2" cy="162.9" r="3.0"/><circle cx="185.3" cy="178.5" r="3.0"/><circle cx="166.2" cy="174.7" r="3.0"/><circle cx="151.1" cy="157.9" r="3.0"/><circle cx="191.5" cy="159.4" r="3.0"/><circle cx="146.6" cy="159.9" r="3.0"/><circle cx="185.0" cy="155.0" r="3.0"/><circle cx="207.7" cy="160.2" r="3.0"/><circle cx="198.0" cy="170.8" r="3.0"/><circle cx="169.3" cy="155.2" r="3.0"/><circle cx="198.1" cy="158.1" r="3.0"/><circle cx="199.6" cy="160.7" r="3.0"/><circle cx="173.2" cy="171.8" r="3.0"/><circle cx="185.5" cy="164.9" r="3.0"/><circle cx="157.1" cy="175.0" r="3.0"/><circle cx="161.9" cy="161.6" r="3.0"/><circle cx="186.8" cy="177.3" r="3.0"/><circle cx="151.7" cy="167.7" r="3.0"/><circle cx="171.8" cy="155.8" r="3.0"/><circle cx="216.3" cy="157.6" r="3.0"/><circle cx="172.8" cy="162.8" r="3.0"/><circle cx="216.1" cy="166.5" r="3.0"/><circle cx="157.3" cy="164.5" r="3.0"/><circle cx="156.5" cy="163.1" r="3.0"/><circle cx="185.0" cy="156.9" r="3.0"/><circle cx="187.6" cy="171.7" r="3.0"/><circle cx="192.7" cy="152.4" r="3.0"/><circle cx="194.9" cy="168.3" r="3.0"/><circle cx="194.2" cy="159.6" r="3.0"/></g>
<g fill="#ffd500"><circle cx="135.6" cy="164.5" r="3.0"/><circle cx="199.0" cy="140.0" r="3.0"/><circle cx="204.0" cy="144.0" r="3.0"/><circle cx="199.0" cy="148.0" r="3.0"/><circle cx="209.0" cy="149.0" r="3.0"/><circle cx="206.0" cy="150.5" r="3.0"/><circle cx="214.0" cy="150.0" r="3.0"/><circle cx="220.0" cy="145.0" r="3.0"/><circle cx="224.0" cy="147.0" r="3.0"/><circle cx="221.2" cy="153.0" r="3.0"/><circle cx="226.6" cy="165.0" r="3.0"/><circle cx="223.5" cy="168.2" r="3.0"/><circle cx="223.0" cy="175.5" r="3.0"/><circle cx="210.3" cy="171.8" r="3.0"/><circle cx="213.0" cy="177.3" r="3.0"/><circle cx="224.5" cy="159.5" r="3.0"/></g>
<g fill="#ff8070"><circle cx="266.8" cy="209.8" r="3.0"/></g>
<g fill="#00f4f4"><circle cx="227.0" cy="214.3" r="3.0"/><circle cx="230.5" cy="214.8" r="3.0"/><circle cx="234.0" cy="214.5" r="3.0"/><circle cx="237.5" cy="216.0" r="3.0"/><circle cx="241.0" cy="217.5" r="3.0"/><circle cx="250.0" cy="198.5" r="3.0"/><circle cx="253.5" cy="200.5" r="3.0"/><circle cx="251.5" cy="203.5" r="3.0"/></g>
<g fill="#0a8cff"><circle cx="159.3" cy="119.8" r="3.0"/><circle cx="105.7" cy="128.9" r="3.0"/><circle cx="169.0" cy="114.8" r="3.0"/><circle cx="97.7" cy="132.4" r="3.0"/><circle cx="99.0" cy="132.4" r="3.0"/><circle cx="139.3" cy="130.0" r="3.0"/><circle cx="130.4" cy="136.6" r="3.0"/><circle cx="137.6" cy="130.0" r="3.0"/><circle cx="164.1" cy="130.2" r="3.0"/><circle cx="112.1" cy="129.9" r="3.0"/><circle cx="151.5" cy="127.2" r="3.0"/><circle cx="139.4" cy="141.6" r="3.0"/><circle cx="101.7" cy="125.1" r="3.0"/><circle cx="121.7" cy="143.2" r="3.0"/><circle cx="146.8" cy="131.0" r="3.0"/><circle cx="157.0" cy="129.7" r="3.0"/><circle cx="128.1" cy="142.5" r="3.0"/><circle cx="162.5" cy="119.0" r="3.0"/><circle cx="127.3" cy="136.4" r="3.0"/><circle cx="136.1" cy="132.1" r="3.0"/><circle cx="160.2" cy="130.0" r="3.0"/><circle cx="166.5" cy="126.5" r="3.0"/><circle cx="157.2" cy="138.7" r="3.0"/><circle cx="168.1" cy="118.0" r="3.0"/><circle cx="123.2" cy="128.7" r="3.0"/><circle cx="159.9" cy="116.4" r="3.0"/><circle cx="120.7" cy="142.3" r="3.0"/><circle cx="144.3" cy="135.7" r="3.0"/><circle cx="152.9" cy="134.5" r="3.0"/><circle cx="153.9" cy="119.6" r="3.0"/><circle cx="123.2" cy="140.0" r="3.0"/><circle cx="130.1" cy="140.5" r="3.0"/><circle cx="150.5" cy="130.1" r="3.0"/><circle cx="156.6" cy="123.7" r="3.0"/><circle cx="146.8" cy="126.9" r="3.0"/><circle cx="130.4" cy="133.7" r="3.0"/><circle cx="159.2" cy="137.4" r="3.0"/><circle cx="151.4" cy="124.6" r="3.0"/><circle cx="101.5" cy="129.0" r="3.0"/><circle cx="154.2" cy="129.1" r="3.0"/><circle cx="148.2" cy="124.5" r="3.0"/><circle cx="139.4" cy="127.5" r="3.0"/><circle cx="156.0" cy="136.4" r="3.0"/><circle cx="159.1" cy="124.8" r="3.0"/><circle cx="135.9" cy="141.6" r="3.0"/><circle cx="132.2" cy="141.6" r="3.0"/><circle cx="134.7" cy="139.0" r="3.0"/><circle cx="102.8" cy="126.5" r="3.0"/><circle cx="140.7" cy="126.9" r="3.0"/><circle cx="134.3" cy="128.6" r="3.0"/><circle cx="136.7" cy="134.0" r="3.0"/><circle cx="162.0" cy="123.6" r="3.0"/><circle cx="146.4" cy="134.4" r="3.0"/><circle cx="123.3" cy="133.9" r="3.0"/><circle cx="102.9" cy="132.0" r="3.0"/><circle cx="171.0" cy="123.0" r="3.0"/><circle cx="161.0" cy="122.2" r="3.0"/><circle cx="113.2" cy="128.0" r="3.0"/><circle cx="119.7" cy="138.7" r="3.0"/><circle cx="107.1" cy="132.0" r="3.0"/><circle cx="105.5" cy="135.0" r="3.0"/><circle cx="105.1" cy="136.5" r="3.0"/><circle cx="158.0" cy="116.6" r="3.0"/><circle cx="110.4" cy="127.1" r="3.0"/><circle cx="104.1" cy="132.3" r="3.0"/><circle cx="154.7" cy="123.9" r="3.0"/><circle cx="155.4" cy="117.9" r="3.0"/><circle cx="112.7" cy="140.6" r="3.0"/><circle cx="99.7" cy="134.2" r="3.0"/><circle cx="116.6" cy="136.2" r="3.0"/><circle cx="166.7" cy="128.2" r="3.0"/><circle cx="161.2" cy="126.9" r="3.0"/><circle cx="108.6" cy="137.5" r="3.0"/><circle cx="110.7" cy="132.8" r="3.0"/><circle cx="130.8" cy="129.3" r="3.0"/><circle cx="125.2" cy="138.2" r="3.0"/><circle cx="136.9" cy="138.4" r="3.0"/><circle cx="146.2" cy="138.4" r="3.0"/><circle cx="109.6" cy="133.4" r="3.0"/><circle cx="122.4" cy="137.4" r="3.0"/><circle cx="151.6" cy="134.2" r="3.0"/><circle cx="131.5" cy="143.5" r="3.0"/><circle cx="150.5" cy="140.0" r="3.0"/><circle cx="128.0" cy="132.5" r="3.0"/><circle cx="152.7" cy="122.8" r="3.0"/><circle cx="144.8" cy="131.4" r="3.0"/><circle cx="121.1" cy="127.6" r="3.0"/><circle cx="129.4" cy="143.2" r="3.0"/><circle cx="115.5" cy="126.4" r="3.0"/><circle cx="164.8" cy="119.9" r="3.0"/><circle cx="154.3" cy="132.5" r="3.0"/><circle cx="114.4" cy="140.3" r="3.0"/><circle cx="135.8" cy="126.5" r="3.0"/><circle cx="151.7" cy="130.9" r="3.0"/><circle cx="141.9" cy="128.5" r="3.0"/><circle cx="156.9" cy="134.3" r="3.0"/><circle cx="155.5" cy="127.2" r="3.0"/><circle cx="125.6" cy="134.7" r="3.0"/><circle cx="148.4" cy="123.4" r="3.0"/><circle cx="143.3" cy="133.6" r="3.0"/><circle cx="105.9" cy="126.1" r="3.0"/><circle cx="138.2" cy="136.1" r="3.0"/><circle cx="141.8" cy="135.7" r="3.0"/><circle cx="119.0" cy="137.1" r="3.0"/><circle cx="154.6" cy="122.6" r="3.0"/><circle cx="109.8" cy="129.6" r="3.0"/><circle cx="113.3" cy="136.1" r="3.0"/><circle cx="119.3" cy="133.9" r="3.0"/><circle cx="110.6" cy="135.9" r="3.0"/><circle cx="163.1" cy="127.9" r="3.0"/><circle cx="143.0" cy="128.0" r="3.0"/><circle cx="164.0" cy="118.1" r="3.0"/><circle cx="134.3" cy="134.9" r="3.0"/><circle cx="123.5" cy="140.7" r="3.0"/><circle cx="129.3" cy="133.6" r="3.0"/><circle cx="140.7" cy="139.5" r="3.0"/><circle cx="116.8" cy="132.0" r="3.0"/><circle cx="100.1" cy="138.5" r="3.0"/><circle cx="119.9" cy="129.5" r="3.0"/><circle cx="124.8" cy="132.3" r="3.0"/><circle cx="118.3" cy="135.0" r="3.0"/><circle cx="165.9" cy="122.0" r="3.0"/><circle cx="121.4" cy="143.8" r="3.0"/><circle cx="129.6" cy="131.2" r="3.0"/><circle cx="168.7" cy="124.5" r="3.0"/><circle cx="158.7" cy="127.9" r="3.0"/><circle cx="115.6" cy="134.0" r="3.0"/><circle cx="148.7" cy="127.6" r="3.0"/><circle cx="103.1" cy="129.4" r="3.0"/><circle cx="149.1" cy="130.9" r="3.0"/><circle cx="114.2" cy="138.3" r="3.0"/><circle cx="117.2" cy="128.4" r="3.0"/><circle cx="113.9" cy="129.2" r="3.0"/><circle cx="103.0" cy="136.0" r="3.0"/><circle cx="133.5" cy="136.1" r="3.0"/><circle cx="137.9" cy="130.9" r="3.0"/><circle cx="143.2" cy="138.4" r="3.0"/><circle cx="147.4" cy="137.5" r="3.0"/><circle cx="146.3" cy="129.1" r="3.0"/><circle cx="116.5" cy="130.4" r="3.0"/><circle cx="131.9" cy="138.2" r="3.0"/><circle cx="164.5" cy="121.8" r="3.0"/><circle cx="118.4" cy="131.5" r="3.0"/><circle cx="147.9" cy="130.1" r="3.0"/><circle cx="136.4" cy="137.5" r="3.0"/><circle cx="103.6" cy="134.8" r="3.0"/><circle cx="158.4" cy="121.4" r="3.0"/><circle cx="140.3" cy="131.7" r="3.0"/><circle cx="140.3" cy="143.1" r="3.0"/><circle cx="126.2" cy="130.2" r="3.0"/><circle cx="159.8" cy="131.4" r="3.0"/><circle cx="149.9" cy="136.4" r="3.0"/><circle cx="129.2" cy="139.8" r="3.0"/><circle cx="133.6" cy="131.9" r="3.0"/><circle cx="125.1" cy="137.2" r="3.0"/><circle cx="159.8" cy="134.4" r="3.0"/><circle cx="161.7" cy="134.3" r="3.0"/><circle cx="159.7" cy="115.3" r="3.0"/><circle cx="116.4" cy="139.8" r="3.0"/><circle cx="147.7" cy="134.5" r="3.0"/><circle cx="112.3" cy="131.2" r="3.0"/><circle cx="151.9" cy="136.4" r="3.0"/><circle cx="139.5" cy="134.6" r="3.0"/><circle cx="121.5" cy="132.8" r="3.0"/><circle cx="158.5" cy="137.9" r="3.0"/><circle cx="112.0" cy="134.8" r="3.0"/><circle cx="143.4" cy="122.7" r="3.0"/><circle cx="156.7" cy="119.7" r="3.0"/><circle cx="147.8" cy="139.1" r="3.0"/><circle cx="104.0" cy="125.3" r="3.0"/><circle cx="164.1" cy="125.0" r="3.0"/><circle cx="142.4" cy="143.1" r="3.0"/><circle cx="98.6" cy="128.8" r="3.0"/><circle cx="129.4" cy="128.6" r="3.0"/><circle cx="158.2" cy="132.3" r="3.0"/></g>
<g fill="#0a8cff"><circle cx="88.4" cy="132.0" r="3.0"/><circle cx="177.1" cy="113.4" r="3.0"/><circle cx="180.0" cy="123.3" r="3.0"/></g>
<g fill="#b41aff"><circle cx="172.5" cy="156.4" r="3.0"/><circle cx="133.6" cy="146.1" r="3.0"/><circle cx="156.6" cy="156.0" r="3.0"/><circle cx="151.3" cy="142.5" r="3.0"/><circle cx="179.0" cy="135.2" r="3.0"/><circle cx="142.2" cy="156.1" r="3.0"/><circle cx="180.6" cy="146.2" r="3.0"/><circle cx="173.6" cy="148.8" r="3.0"/><circle cx="158.2" cy="145.9" r="3.0"/><circle cx="146.2" cy="157.4" r="3.0"/><circle cx="144.2" cy="148.5" r="3.0"/><circle cx="138.9" cy="156.4" r="3.0"/><circle cx="127.1" cy="149.0" r="3.0"/><circle cx="172.3" cy="140.6" r="3.0"/><circle cx="149.6" cy="149.0" r="3.0"/><circle cx="185.7" cy="148.6" r="3.0"/><circle cx="189.5" cy="129.6" r="3.0"/><circle cx="146.6" cy="147.4" r="3.0"/><circle cx="185.4" cy="133.4" r="3.0"/><circle cx="167.8" cy="131.1" r="3.0"/><circle cx="171.6" cy="138.0" r="3.0"/><circle cx="148.8" cy="141.7" r="3.0"/><circle cx="164.9" cy="132.6" r="3.0"/><circle cx="153.8" cy="143.5" r="3.0"/><circle cx="183.2" cy="138.1" r="3.0"/><circle cx="136.5" cy="158.7" r="3.0"/><circle cx="169.2" cy="143.3" r="3.0"/><circle cx="151.9" cy="159.7" r="3.0"/><circle cx="137.0" cy="151.2" r="3.0"/><circle cx="145.1" cy="155.2" r="3.0"/><circle cx="188.5" cy="144.8" r="3.0"/><circle cx="141.0" cy="145.5" r="3.0"/><circle cx="146.3" cy="144.3" r="3.0"/><circle cx="160.4" cy="142.7" r="3.0"/><circle cx="131.5" cy="148.4" r="3.0"/><circle cx="157.5" cy="148.0" r="3.0"/><circle cx="152.2" cy="157.0" r="3.0"/><circle cx="173.5" cy="144.8" r="3.0"/><circle cx="164.6" cy="151.2" r="3.0"/><circle cx="129.0" cy="150.3" r="3.0"/><circle cx="130.7" cy="146.3" r="3.0"/><circle cx="167.9" cy="141.9" r="3.0"/><circle cx="144.7" cy="145.3" r="3.0"/><circle cx="179.2" cy="140.1" r="3.0"/><circle cx="157.0" cy="143.1" r="3.0"/><circle cx="152.4" cy="155.6" r="3.0"/><circle cx="190.1" cy="135.4" r="3.0"/><circle cx="167.0" cy="136.9" r="3.0"/><circle cx="167.7" cy="145.4" r="3.0"/><circle cx="140.2" cy="147.5" r="3.0"/><circle cx="163.6" cy="155.9" r="3.0"/><circle cx="174.3" cy="130.6" r="3.0"/><circle cx="138.1" cy="150.6" r="3.0"/><circle cx="184.7" cy="136.2" r="3.0"/><circle cx="164.5" cy="146.1" r="3.0"/><circle cx="178.1" cy="144.9" r="3.0"/><circle cx="181.3" cy="151.4" r="3.0"/><circle cx="177.7" cy="151.4" r="3.0"/><circle cx="187.1" cy="143.0" r="3.0"/><circle cx="186.1" cy="152.3" r="3.0"/><circle cx="169.0" cy="151.2" r="3.0"/><circle cx="189.1" cy="131.9" r="3.0"/><circle cx="177.7" cy="153.5" r="3.0"/><circle cx="161.5" cy="156.2" r="3.0"/><circle cx="168.6" cy="133.4" r="3.0"/><circle cx="184.4" cy="138.8" r="3.0"/><circle cx="149.2" cy="157.4" r="3.0"/><circle cx="146.9" cy="142.1" r="3.0"/><circle cx="166.4" cy="155.1" r="3.0"/><circle cx="174.0" cy="153.5" r="3.0"/><circle cx="150.7" cy="155.0" r="3.0"/><circle cx="166.6" cy="148.2" r="3.0"/><circle cx="183.4" cy="129.7" r="3.0"/><circle cx="183.7" cy="150.6" r="3.0"/><circle cx="175.8" cy="135.1" r="3.0"/><circle cx="165.0" cy="140.1" r="3.0"/><circle cx="168.3" cy="158.5" r="3.0"/><circle cx="129.8" cy="148.4" r="3.0"/><circle cx="186.4" cy="145.0" r="3.0"/><circle cx="172.2" cy="148.7" r="3.0"/><circle cx="180.1" cy="137.6" r="3.0"/><circle cx="178.9" cy="143.3" r="3.0"/><circle cx="179.6" cy="147.6" r="3.0"/><circle cx="159.3" cy="160.6" r="3.0"/><circle cx="157.6" cy="152.8" r="3.0"/><circle cx="171.8" cy="135.9" r="3.0"/><circle cx="133.6" cy="143.9" r="3.0"/><circle cx="188.7" cy="128.0" r="3.0"/><circle cx="165.4" cy="144.0" r="3.0"/><circle cx="155.2" cy="148.8" r="3.0"/><circle cx="156.1" cy="150.2" r="3.0"/><circle cx="176.2" cy="137.6" r="3.0"/><circle cx="190.1" cy="134.6" r="3.0"/><circle cx="140.9" cy="149.8" r="3.0"/><circle cx="171.2" cy="133.6" r="3.0"/><circle cx="142.7" cy="159.8" r="3.0"/><circle cx="135.8" cy="146.2" r="3.0"/><circle cx="158.6" cy="141.7" r="3.0"/><circle cx="145.7" cy="159.8" r="3.0"/><circle cx="136.9" cy="148.6" r="3.0"/><circle cx="180.9" cy="154.1" r="3.0"/><circle cx="170.5" cy="145.7" r="3.0"/><circle cx="143.1" cy="153.9" r="3.0"/><circle cx="132.0" cy="153.6" r="3.0"/><circle cx="127.6" cy="151.9" r="3.0"/><circle cx="159.6" cy="157.4" r="3.0"/><circle cx="165.3" cy="161.4" r="3.0"/><circle cx="150.9" cy="143.6" r="3.0"/><circle cx="148.3" cy="144.9" r="3.0"/><circle cx="185.1" cy="131.4" r="3.0"/><circle cx="164.9" cy="139.0" r="3.0"/><circle cx="141.2" cy="153.1" r="3.0"/><circle cx="155.0" cy="141.1" r="3.0"/><circle cx="161.9" cy="150.5" r="3.0"/><circle cx="170.8" cy="141.0" r="3.0"/><circle cx="135.6" cy="148.7" r="3.0"/><circle cx="136.9" cy="153.1" r="3.0"/><circle cx="163.6" cy="147.8" r="3.0"/><circle cx="160.8" cy="148.7" r="3.0"/><circle cx="156.3" cy="144.9" r="3.0"/><circle cx="145.3" cy="150.4" r="3.0"/><circle cx="184.1" cy="141.0" r="3.0"/><circle cx="146.9" cy="153.4" r="3.0"/><circle cx="131.0" cy="151.3" r="3.0"/><circle cx="162.2" cy="144.2" r="3.0"/><circle cx="176.0" cy="140.9" r="3.0"/><circle cx="181.1" cy="141.6" r="3.0"/><circle cx="167.6" cy="153.7" r="3.0"/><circle cx="165.0" cy="137.1" r="3.0"/><circle cx="188.4" cy="153.3" r="3.0"/><circle cx="177.5" cy="133.0" r="3.0"/><circle cx="184.3" cy="145.1" r="3.0"/><circle cx="152.5" cy="148.7" r="3.0"/><circle cx="170.6" cy="142.5" r="3.0"/><circle cx="150.0" cy="150.0" r="3.0"/><circle cx="176.4" cy="150.3" r="3.0"/><circle cx="161.9" cy="140.1" r="3.0"/><circle cx="148.1" cy="153.3" r="3.0"/><circle cx="176.6" cy="132.9" r="3.0"/><circle cx="155.2" cy="158.0" r="3.0"/><circle cx="181.8" cy="143.4" r="3.0"/><circle cx="185.3" cy="139.7" r="3.0"/><circle cx="171.7" cy="153.1" r="3.0"/><circle cx="148.4" cy="155.9" r="3.0"/><circle cx="141.8" cy="143.5" r="3.0"/><circle cx="169.0" cy="155.0" r="3.0"/><circle cx="166.3" cy="151.0" r="3.0"/><circle cx="153.3" cy="146.3" r="3.0"/><circle cx="162.5" cy="144.8" r="3.0"/><circle cx="126.9" cy="146.6" r="3.0"/><circle cx="162.0" cy="158.0" r="3.0"/><circle cx="133.2" cy="150.8" r="3.0"/><circle cx="181.3" cy="135.4" r="3.0"/><circle cx="182.5" cy="149.0" r="3.0"/><circle cx="172.1" cy="150.1" r="3.0"/><circle cx="186.5" cy="130.3" r="3.0"/><circle cx="180.3" cy="130.6" r="3.0"/><circle cx="154.2" cy="153.3" r="3.0"/><circle cx="187.6" cy="150.6" r="3.0"/><circle cx="151.6" cy="153.9" r="3.0"/><circle cx="133.1" cy="156.0" r="3.0"/><circle cx="174.3" cy="133.4" r="3.0"/><circle cx="147.7" cy="150.5" r="3.0"/><circle cx="166.2" cy="158.2" r="3.0"/><circle cx="169.4" cy="147.4" r="3.0"/><circle cx="174.9" cy="138.8" r="3.0"/><circle cx="180.2" cy="152.1" r="3.0"/><circle cx="176.4" cy="147.6" r="3.0"/><circle cx="186.5" cy="126.3" r="3.0"/><circle cx="129.6" cy="144.9" r="3.0"/><circle cx="150.5" cy="145.2" r="3.0"/><circle cx="164.3" cy="137.5" r="3.0"/><circle cx="181.6" cy="133.3" r="3.0"/><circle cx="157.9" cy="150.1" r="3.0"/><circle cx="170.5" cy="130.9" r="3.0"/><circle cx="177.1" cy="154.4" r="3.0"/><circle cx="188.2" cy="133.3" r="3.0"/><circle cx="134.4" cy="152.7" r="3.0"/><circle cx="158.4" cy="154.7" r="3.0"/><circle cx="176.4" cy="145.6" r="3.0"/><circle cx="169.8" cy="136.8" r="3.0"/><circle cx="138.4" cy="145.3" r="3.0"/><circle cx="134.3" cy="143.2" r="3.0"/><circle cx="125.0" cy="144.5" r="3.0"/><circle cx="163.7" cy="153.0" r="3.0"/><circle cx="174.9" cy="142.6" r="3.0"/><circle cx="152.8" cy="151.3" r="3.0"/><circle cx="157.0" cy="158.8" r="3.0"/><circle cx="160.1" cy="153.4" r="3.0"/><circle cx="180.5" cy="133.7" r="3.0"/><circle cx="135.4" cy="158.8" r="3.0"/><circle cx="176.9" cy="143.4" r="3.0"/><circle cx="165.4" cy="154.0" r="3.0"/><circle cx="124.7" cy="148.1" r="3.0"/><circle cx="148.8" cy="160.4" r="3.0"/><circle cx="179.8" cy="154.4" r="3.0"/><circle cx="135.9" cy="155.5" r="3.0"/><circle cx="169.4" cy="138.3" r="3.0"/><circle cx="185.3" cy="143.1" r="3.0"/></g>
<g fill="#b41aff"><circle cx="109.5" cy="146.7" r="3.0"/><circle cx="113.9" cy="141.8" r="3.0"/><circle cx="120.8" cy="154.2" r="3.0"/></g>
<g fill="#0a8cff"><circle cx="161.0" cy="139.0" r="3.0"/></g>
<g fill="#f29edb"><circle cx="93.2" cy="110.1" r="3.0"/><circle cx="120.1" cy="127.0" r="3.0"/><circle cx="118.1" cy="120.2" r="3.0"/><circle cx="146.7" cy="117.3" r="3.0"/><circle cx="120.0" cy="122.7" r="3.0"/><circle cx="124.9" cy="109.9" r="3.0"/><circle cx="102.2" cy="107.0" r="3.0"/><circle cx="126.8" cy="111.0" r="3.0"/><circle cx="101.5" cy="115.3" r="3.0"/><circle cx="115.8" cy="128.0" r="3.0"/><circle cx="104.0" cy="117.9" r="3.0"/><circle cx="117.9" cy="104.8" r="3.0"/><circle cx="114.0" cy="116.5" r="3.0"/><circle cx="107.0" cy="118.3" r="3.0"/><circle cx="113.5" cy="112.0" r="3.0"/><circle cx="101.3" cy="114.3" r="3.0"/><circle cx="115.3" cy="122.6" r="3.0"/><circle cx="133.4" cy="115.2" r="3.0"/><circle cx="122.3" cy="108.8" r="3.0"/><circle cx="124.7" cy="116.1" r="3.0"/><circle cx="110.7" cy="109.4" r="3.0"/><circle cx="110.7" cy="110.4" r="3.0"/><circle cx="109.5" cy="116.2" r="3.0"/><circle cx="96.5" cy="116.5" r="3.0"/><circle cx="122.3" cy="123.9" r="3.0"/><circle cx="130.3" cy="124.3" r="3.0"/><circle cx="94.7" cy="118.9" r="3.0"/><circle cx="124.2" cy="121.5" r="3.0"/><circle cx="116.8" cy="106.8" r="3.0"/><circle cx="114.2" cy="118.6" r="3.0"/><circle cx="101.3" cy="121.5" r="3.0"/><circle cx="121.4" cy="111.7" r="3.0"/><circle cx="127.6" cy="115.4" r="3.0"/><circle cx="115.4" cy="125.8" r="3.0"/><circle cx="140.4" cy="118.1" r="3.0"/><circle cx="128.3" cy="123.8" r="3.0"/><circle cx="105.2" cy="111.9" r="3.0"/><circle cx="97.8" cy="118.0" r="3.0"/><circle cx="117.9" cy="108.8" r="3.0"/><circle cx="96.3" cy="111.2" r="3.0"/><circle cx="133.6" cy="123.4" r="3.0"/><circle cx="120.8" cy="105.5" r="3.0"/><circle cx="136.0" cy="112.0" r="3.0"/><circle cx="121.0" cy="113.6" r="3.0"/><circle cx="103.8" cy="105.7" r="3.0"/><circle cx="113.1" cy="120.5" r="3.0"/><circle cx="137.9" cy="113.1" r="3.0"/><circle cx="108.1" cy="124.3" r="3.0"/><circle cx="112.3" cy="118.1" r="3.0"/><circle cx="109.5" cy="121.9" r="3.0"/><circle cx="91.3" cy="115.2" r="3.0"/><circle cx="104.8" cy="121.8" r="3.0"/><circle cx="123.7" cy="114.1" r="3.0"/><circle cx="116.7" cy="122.5" r="3.0"/><circle cx="100.7" cy="109.1" r="3.0"/><circle cx="129.5" cy="120.4" r="3.0"/><circle cx="99.3" cy="116.6" r="3.0"/><circle cx="119.5" cy="106.0" r="3.0"/><circle cx="136.0" cy="118.9" r="3.0"/><circle cx="119.1" cy="102.9" r="3.0"/><circle cx="141.6" cy="118.5" r="3.0"/><circle cx="125.9" cy="124.6" r="3.0"/><circle cx="106.8" cy="123.2" r="3.0"/><circle cx="99.2" cy="120.2" r="3.0"/><circle cx="109.2" cy="113.5" r="3.0"/><circle cx="100.1" cy="102.7" r="3.0"/><circle cx="125.1" cy="118.0" r="3.0"/><circle cx="95.4" cy="108.1" r="3.0"/><circle cx="139.4" cy="121.5" r="3.0"/><circle cx="108.5" cy="107.1" r="3.0"/><circle cx="99.8" cy="124.1" r="3.0"/><circle cx="102.2" cy="112.2" r="3.0"/><circle cx="118.1" cy="112.2" r="3.0"/><circle cx="134.0" cy="119.3" r="3.0"/><circle cx="128.7" cy="108.4" r="3.0"/><circle cx="121.1" cy="116.0" r="3.0"/><circle cx="98.9" cy="111.5" r="3.0"/><circle cx="132.7" cy="108.4" r="3.0"/><circle cx="107.2" cy="115.5" r="3.0"/><circle cx="115.8" cy="112.1" r="3.0"/><circle cx="136.2" cy="115.6" r="3.0"/><circle cx="96.2" cy="121.9" r="3.0"/><circle cx="109.6" cy="126.5" r="3.0"/><circle cx="103.4" cy="113.0" r="3.0"/><circle cx="113.5" cy="109.6" r="3.0"/><circle cx="136.9" cy="124.3" r="3.0"/><circle cx="133.6" cy="114.2" r="3.0"/><circle cx="111.2" cy="123.6" r="3.0"/><circle cx="123.8" cy="110.9" r="3.0"/><circle cx="117.6" cy="113.8" r="3.0"/><circle cx="140.0" cy="112.2" r="3.0"/><circle cx="88.4" cy="113.5" r="3.0"/><circle cx="103.8" cy="115.2" r="3.0"/><circle cx="115.4" cy="116.7" r="3.0"/><circle cx="133.0" cy="112.2" r="3.0"/><circle cx="126.6" cy="112.9" r="3.0"/><circle cx="118.1" cy="115.4" r="3.0"/><circle cx="131.2" cy="125.0" r="3.0"/><circle cx="108.7" cy="104.9" r="3.0"/><circle cx="141.4" cy="115.7" r="3.0"/><circle cx="109.7" cy="122.8" r="3.0"/><circle cx="130.8" cy="115.9" r="3.0"/><circle cx="104.2" cy="123.9" r="3.0"/><circle cx="97.9" cy="123.8" r="3.0"/><circle cx="118.8" cy="126.3" r="3.0"/><circle cx="120.4" cy="104.4" r="3.0"/><circle cx="112.1" cy="126.1" r="3.0"/><circle cx="108.3" cy="112.0" r="3.0"/><circle cx="137.8" cy="107.7" r="3.0"/><circle cx="139.0" cy="116.8" r="3.0"/><circle cx="89.5" cy="112.2" r="3.0"/><circle cx="103.9" cy="108.1" r="3.0"/><circle cx="126.2" cy="120.9" r="3.0"/><circle cx="131.0" cy="118.9" r="3.0"/><circle cx="143.3" cy="114.6" r="3.0"/><circle cx="91.3" cy="119.6" r="3.0"/><circle cx="98.2" cy="114.3" r="3.0"/><circle cx="120.8" cy="125.4" r="3.0"/><circle cx="109.3" cy="117.9" r="3.0"/><circle cx="120.7" cy="118.2" r="3.0"/><circle cx="95.7" cy="113.4" r="3.0"/><circle cx="93.9" cy="111.5" r="3.0"/><circle cx="122.7" cy="119.1" r="3.0"/><circle cx="121.0" cy="121.9" r="3.0"/><circle cx="105.2" cy="109.0" r="3.0"/><circle cx="95.0" cy="122.5" r="3.0"/><circle cx="106.8" cy="113.4" r="3.0"/><circle cx="89.6" cy="120.1" r="3.0"/><circle cx="111.8" cy="114.7" r="3.0"/><circle cx="119.3" cy="109.2" r="3.0"/><circle cx="108.4" cy="121.7" r="3.0"/><circle cx="127.9" cy="113.3" r="3.0"/><circle cx="104.1" cy="125.6" r="3.0"/><circle cx="133.0" cy="120.7" r="3.0"/><circle cx="107.6" cy="126.7" r="3.0"/><circle cx="99.6" cy="117.6" r="3.0"/><circle cx="138.3" cy="120.4" r="3.0"/><circle cx="115.2" cy="121.8" r="3.0"/><circle cx="102.0" cy="103.0" r="3.0"/><circle cx="142.9" cy="115.6" r="3.0"/><circle cx="113.8" cy="113.8" r="3.0"/><circle cx="134.7" cy="122.0" r="3.0"/><circle cx="98.3" cy="108.9" r="3.0"/><circle cx="108.5" cy="108.7" r="3.0"/><circle cx="135.8" cy="125.7" r="3.0"/><circle cx="125.9" cy="124.3" r="3.0"/><circle cx="116.5" cy="118.1" r="3.0"/><circle cx="92.2" cy="119.6" r="3.0"/><circle cx="132.1" cy="112.8" r="3.0"/><circle cx="94.4" cy="116.5" r="3.0"/><circle cx="91.6" cy="114.5" r="3.0"/><circle cx="127.9" cy="118.4" r="3.0"/><circle cx="123.5" cy="126.8" r="3.0"/></g>
<g fill="#f29edb"><circle cx="83.4" cy="120.4" r="3.0"/><circle cx="155.3" cy="112.9" r="3.0"/></g>
<polygon points="271.20,57.80 273.11,63.67 279.28,63.67 274.29,67.30 276.20,73.18 271.20,69.55 266.20,73.18 268.11,67.30 263.12,63.67 269.29,63.67" fill="#ff0000"/>
<rect x="377.5" y="36.5" width="132.0" height="158.0" fill="#fff" stroke="#262626" stroke-width="1"/>
<g font-family="Liberation Sans, Arial, sans-serif" font-size="12.7" fill="#000">
<text x="426.9" y="51.10">Cluster 1</text>
<text x="426.9" y="68.41">Cluster 2</text>
<text x="426.9" y="85.72">Cluster 3</text>
<text x="426.9" y="103.03">Cluster 4</text>
<text x="426.9" y="120.34">Cluster 5</text>
<text x="426.9" y="137.65">Cluster 6</text>
<text x="426.9" y="154.96">Cluster 7</text>
<text x="426.9" y="172.27">Cluster center</text>
<text x="426.9" y="189.58">Passive</text>
</g>
<circle cx="402.7" cy="46.60" r="3.0" fill="#b41aff"/>
<circle cx="402.7" cy="63.91" r="3.0" fill="#00f078"/>
<circle cx="402.7" cy="81.22" r="3.0" fill="#ff8070"/>
<circle cx="402.7" cy="98.53" r="3.0" fill="#0a8cff"/>
<circle cx="402.7" cy="115.84" r="3.0" fill="#f29edb"/>
<circle cx="402.7" cy="133.15" r="3.0" fill="#00f4f4"/>
<circle cx="402.7" cy="150.46" r="3.0" fill="#ffd500"/>
<polygon points="402.90,159.50 404.74,165.17 410.70,165.17 405.88,168.67 407.72,174.33 402.90,170.83 398.08,174.33 399.92,168.67 395.10,165.17 401.06,165.17" fill="#000"/>
<polygon points="402.90,176.90 404.74,182.57 410.70,182.57 405.88,186.07 407.72,191.73 402.90,188.23 398.08,191.73 399.92,186.07 395.10,182.57 401.06,182.57" fill="#ff0000"/>
</svg></body></html>
